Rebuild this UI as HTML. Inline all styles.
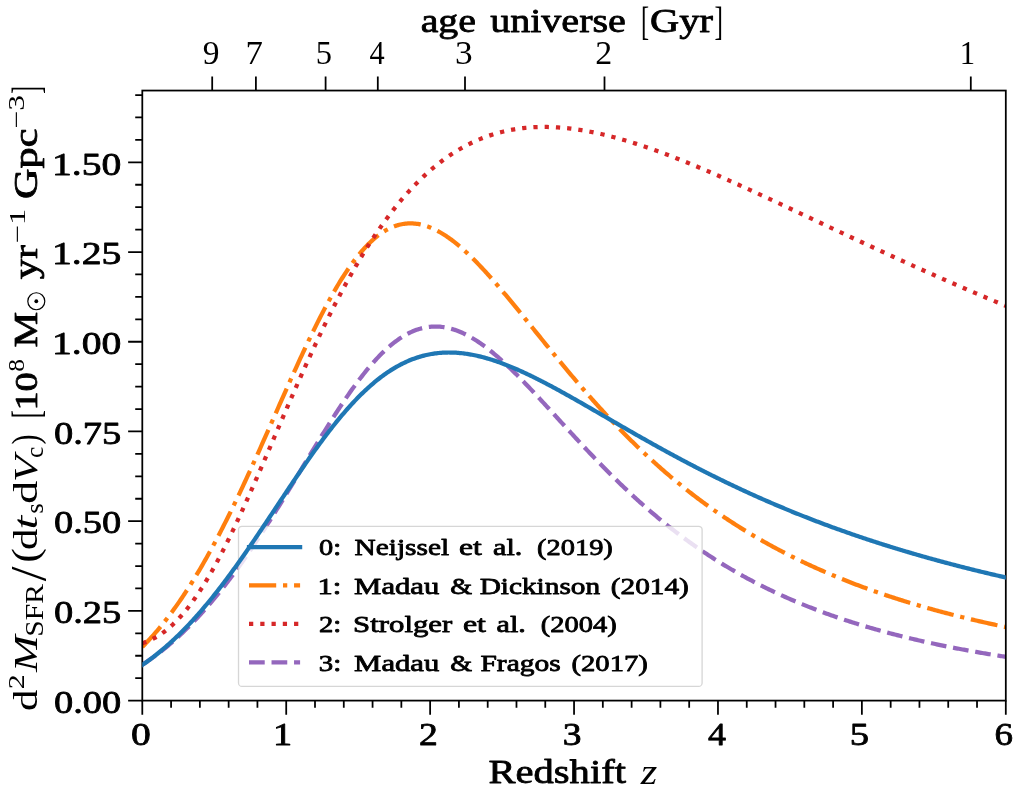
<!DOCTYPE html>
<html><head><meta charset="utf-8"><title>Star formation rate density vs redshift</title>
<style>html,body{margin:0;padding:0;background:#fff;} body{width:1020px;height:792px;overflow:hidden;} svg{display:block;will-change:transform;} text{font-family:"Liberation Serif",serif;}</style>
</head><body>
<svg width="1020" height="792" viewBox="0 0 1020 792">
<rect width="1020" height="792" fill="#fff"/>
<defs><clipPath id="ax"><rect x="142.3" y="90.55" width="863.50" height="610.05"/></clipPath></defs>
<g clip-path="url(#ax)" fill="none" stroke-linejoin="round">
<path d="M142.30,646.91 L143.54,645.66 L144.77,644.40 L146.01,643.12 L147.24,641.82 L148.48,640.50 L149.71,639.16 L150.95,637.81 L152.18,636.44 L153.42,635.05 L154.65,633.64 L155.89,632.22 L157.12,630.77 L158.36,629.31 L159.59,627.83 L160.83,626.33 L162.07,624.81 L163.30,623.27 L164.54,621.72 L165.77,620.14 L167.01,618.55 L168.24,616.94 L169.48,615.31 L170.71,613.66 L171.95,611.99 L173.18,610.31 L174.42,608.60 L175.65,606.88 L176.89,605.13 L178.12,603.37 L179.36,601.59 L180.60,599.79 L181.83,597.97 L183.07,596.14 L184.30,594.28 L185.54,592.41 L186.77,590.51 L188.01,588.60 L189.24,586.67 L190.48,584.72 L191.71,582.75 L192.95,580.77 L194.18,578.76 L195.42,576.74 L196.65,574.70 L197.89,572.64 L199.13,570.56 L200.36,568.46 L201.60,566.35 L202.83,564.21 L204.07,562.06 L205.30,559.89 L206.54,557.71 L207.77,555.50 L209.01,553.28 L210.24,551.04 L211.48,548.79 L212.71,546.52 L213.95,544.23 L215.18,541.92 L216.42,539.59 L217.66,537.25 L218.89,534.90 L220.13,532.53 L221.36,530.14 L222.60,527.73 L223.83,525.31 L225.07,522.88 L226.30,520.43 L227.54,517.96 L228.77,515.48 L230.01,512.99 L231.24,510.48 L232.48,507.96 L233.71,505.42 L234.95,502.87 L236.19,500.31 L237.42,497.73 L238.66,495.14 L239.89,492.54 L241.13,489.93 L242.36,487.30 L243.60,484.66 L244.83,482.02 L246.07,479.36 L247.30,476.69 L248.54,474.01 L249.77,471.32 L251.01,468.62 L252.24,465.92 L253.48,463.20 L254.72,460.48 L255.95,457.75 L257.19,455.01 L258.42,452.26 L259.66,449.51 L260.89,446.75 L262.13,443.99 L263.36,441.22 L264.60,438.44 L265.83,435.66 L267.07,432.88 L268.30,430.10 L269.54,427.31 L270.77,424.52 L272.01,421.72 L273.25,418.93 L274.48,416.14 L275.72,413.34 L276.95,410.55 L278.19,407.75 L279.42,404.96 L280.66,402.17 L281.89,399.38 L283.13,396.59 L284.36,393.81 L285.60,391.03 L286.83,388.26 L288.07,385.49 L289.31,382.73 L290.54,379.97 L291.78,377.22 L293.01,374.48 L294.25,371.74 L295.48,369.02 L296.72,366.30 L297.95,363.59 L299.19,360.90 L300.42,358.21 L301.66,355.54 L302.89,352.88 L304.13,350.23 L305.36,347.60 L306.60,344.98 L307.84,342.37 L309.07,339.78 L310.31,337.21 L311.54,334.65 L312.78,332.11 L314.01,329.59 L315.25,327.08 L316.48,324.60 L317.72,322.13 L318.95,319.68 L320.19,317.26 L321.42,314.85 L322.66,312.47 L323.89,310.11 L325.13,307.77 L326.37,305.46 L327.60,303.17 L328.84,300.90 L330.07,298.66 L331.31,296.45 L332.54,294.26 L333.78,292.10 L335.01,289.96 L336.25,287.86 L337.48,285.78 L338.72,283.73 L339.95,281.71 L341.19,279.71 L342.42,277.75 L343.66,275.82 L344.90,273.92 L346.13,272.05 L347.37,270.21 L348.60,268.41 L349.84,266.63 L351.07,264.89 L352.31,263.18 L353.54,261.51 L354.78,259.87 L356.01,258.26 L357.25,256.69 L358.48,255.15 L359.72,253.65 L360.95,252.18 L362.19,250.74 L363.43,249.35 L364.66,247.98 L365.90,246.66 L367.13,245.37 L368.37,244.12 L369.60,242.90 L370.84,241.72 L372.07,240.58 L373.31,239.47 L374.54,238.40 L375.78,237.37 L377.01,236.37 L378.25,235.41 L379.48,234.49 L380.72,233.61 L381.96,232.76 L383.19,231.95 L384.43,231.18 L385.66,230.44 L386.90,229.74 L388.13,229.08 L389.37,228.46 L390.60,227.87 L391.84,227.32 L393.07,226.81 L394.31,226.33 L395.54,225.89 L396.78,225.48 L398.01,225.11 L399.25,224.78 L400.49,224.48 L401.72,224.22 L402.96,224.00 L404.19,223.81 L405.43,223.65 L406.66,223.53 L407.90,223.44 L409.13,223.39 L410.37,223.37 L411.60,223.38 L412.84,223.43 L414.07,223.51 L415.31,223.63 L416.54,223.77 L417.78,223.95 L419.02,224.16 L420.25,224.40 L421.49,224.67 L422.72,224.98 L423.96,225.31 L425.19,225.67 L426.43,226.07 L427.66,226.49 L428.90,226.94 L430.13,227.42 L431.37,227.93 L432.60,228.46 L433.84,229.03 L435.07,229.62 L436.31,230.23 L437.55,230.88 L438.78,231.55 L440.02,232.24 L441.25,232.96 L442.49,233.70 L443.72,234.47 L444.96,235.26 L446.19,236.08 L447.43,236.92 L448.66,237.78 L449.90,238.66 L451.13,239.56 L452.37,240.49 L453.60,241.44 L454.84,242.40 L456.08,243.39 L457.31,244.40 L458.55,245.42 L459.78,246.47 L461.02,247.53 L462.25,248.61 L463.49,249.71 L464.72,250.82 L465.96,251.95 L467.19,253.10 L468.43,254.27 L469.66,255.45 L470.90,256.64 L472.13,257.85 L473.37,259.07 L474.61,260.31 L475.84,261.56 L477.08,262.83 L478.31,264.11 L479.55,265.40 L480.78,266.70 L482.02,268.01 L483.25,269.34 L484.49,270.67 L485.72,272.02 L486.96,273.38 L488.19,274.74 L489.43,276.12 L490.66,277.50 L491.90,278.90 L493.14,280.30 L494.37,281.71 L495.61,283.13 L496.84,284.56 L498.08,286.00 L499.31,287.44 L500.55,288.89 L501.78,290.34 L503.02,291.80 L504.25,293.27 L505.49,294.74 L506.72,296.22 L507.96,297.70 L509.19,299.19 L510.43,300.68 L511.67,302.17 L512.90,303.67 L514.14,305.18 L515.37,306.68 L516.61,308.19 L517.84,309.71 L519.08,311.22 L520.31,312.74 L521.55,314.26 L522.78,315.78 L524.02,317.31 L525.25,318.83 L526.49,320.36 L527.72,321.89 L528.96,323.42 L530.20,324.95 L531.43,326.48 L532.67,328.01 L533.90,329.54 L535.14,331.07 L536.37,332.60 L537.61,334.13 L538.84,335.66 L540.08,337.19 L541.31,338.72 L542.55,340.25 L543.78,341.77 L545.02,343.30 L546.25,344.82 L547.49,346.34 L548.73,347.86 L549.96,349.38 L551.20,350.90 L552.43,352.41 L553.67,353.92 L554.90,355.43 L556.14,356.94 L557.37,358.44 L558.61,359.94 L559.84,361.44 L561.08,362.94 L562.31,364.43 L563.55,365.92 L564.78,367.41 L566.02,368.89 L567.26,370.37 L568.49,371.84 L569.73,373.31 L570.96,374.78 L572.20,376.25 L573.43,377.71 L574.67,379.16 L575.90,380.61 L577.14,382.06 L578.37,383.51 L579.61,384.95 L580.84,386.38 L582.08,387.81 L583.32,389.24 L584.55,390.66 L585.79,392.08 L587.02,393.49 L588.26,394.89 L589.49,396.30 L590.73,397.70 L591.96,399.09 L593.20,400.48 L594.43,401.86 L595.67,403.24 L596.90,404.61 L598.14,405.98 L599.37,407.34 L600.61,408.70 L601.85,410.05 L603.08,411.40 L604.32,412.74 L605.55,414.08 L606.79,415.41 L608.02,416.74 L609.26,418.06 L610.49,419.37 L611.73,420.68 L612.96,421.99 L614.20,423.29 L615.43,424.58 L616.67,425.87 L617.90,427.15 L619.14,428.43 L620.38,429.70 L621.61,430.97 L622.85,432.23 L624.08,433.48 L625.32,434.73 L626.55,435.97 L627.79,437.21 L629.02,438.45 L630.26,439.67 L631.49,440.89 L632.73,442.11 L633.96,443.32 L635.20,444.53 L636.43,445.72 L637.67,446.92 L638.91,448.11 L640.14,449.29 L641.38,450.47 L642.61,451.64 L643.85,452.80 L645.08,453.96 L646.32,455.12 L647.55,456.27 L648.79,457.41 L650.02,458.55 L651.26,459.68 L652.49,460.80 L653.73,461.93 L654.96,463.04 L656.20,464.15 L657.44,465.26 L658.67,466.35 L659.91,467.45 L661.14,468.54 L662.38,469.62 L663.61,470.70 L664.85,471.77 L666.08,472.83 L667.32,473.90 L668.55,474.95 L669.79,476.00 L671.02,477.05 L672.26,478.09 L673.49,479.12 L674.73,480.15 L675.97,481.17 L677.20,482.19 L678.44,483.20 L679.67,484.21 L680.91,485.21 L682.14,486.21 L683.38,487.20 L684.61,488.19 L685.85,489.17 L687.08,490.15 L688.32,491.12 L689.55,492.09 L690.79,493.05 L692.02,494.00 L693.26,494.95 L694.50,495.90 L695.73,496.84 L696.97,497.78 L698.20,498.71 L699.44,499.64 L700.67,500.56 L701.91,501.47 L703.14,502.39 L704.38,503.29 L705.61,504.20 L706.85,505.09 L708.08,505.98 L709.32,506.87 L710.55,507.76 L711.79,508.63 L713.03,509.51 L714.26,510.38 L715.50,511.24 L716.73,512.10 L717.97,512.95 L719.20,513.81 L720.44,514.65 L721.67,515.49 L722.91,516.33 L724.14,517.16 L725.38,517.99 L726.61,518.81 L727.85,519.63 L729.08,520.45 L730.32,521.26 L731.56,522.06 L732.79,522.86 L734.03,523.66 L735.26,524.45 L736.50,525.24 L737.73,526.03 L738.97,526.81 L740.20,527.58 L741.44,528.35 L742.67,529.12 L743.91,529.88 L745.14,530.64 L746.38,531.40 L747.61,532.15 L748.85,532.89 L750.09,533.64 L751.32,534.38 L752.56,535.11 L753.79,535.84 L755.03,536.57 L756.26,537.29 L757.50,538.01 L758.73,538.73 L759.97,539.44 L761.20,540.14 L762.44,540.85 L763.67,541.55 L764.91,542.24 L766.14,542.94 L767.38,543.62 L768.62,544.31 L769.85,544.99 L771.09,545.67 L772.32,546.34 L773.56,547.01 L774.79,547.68 L776.03,548.34 L777.26,549.00 L778.50,549.66 L779.73,550.31 L780.97,550.96 L782.20,551.60 L783.44,552.24 L784.67,552.88 L785.91,553.52 L787.15,554.15 L788.38,554.78 L789.62,555.40 L790.85,556.02 L792.09,556.64 L793.32,557.26 L794.56,557.87 L795.79,558.48 L797.03,559.08 L798.26,559.68 L799.50,560.28 L800.73,560.88 L801.97,561.47 L803.20,562.06 L804.44,562.64 L805.68,563.23 L806.91,563.81 L808.15,564.38 L809.38,564.95 L810.62,565.53 L811.85,566.09 L813.09,566.66 L814.32,567.22 L815.56,567.78 L816.79,568.33 L818.03,568.88 L819.26,569.43 L820.50,569.98 L821.73,570.52 L822.97,571.06 L824.21,571.60 L825.44,572.14 L826.68,572.67 L827.91,573.20 L829.15,573.73 L830.38,574.25 L831.62,574.77 L832.85,575.29 L834.09,575.80 L835.32,576.32 L836.56,576.83 L837.79,577.33 L839.03,577.84 L840.26,578.34 L841.50,578.84 L842.74,579.34 L843.97,579.83 L845.21,580.32 L846.44,580.81 L847.68,581.30 L848.91,581.78 L850.15,582.27 L851.38,582.75 L852.62,583.22 L853.85,583.70 L855.09,584.17 L856.32,584.64 L857.56,585.10 L858.79,585.57 L860.03,586.03 L861.27,586.49 L862.50,586.95 L863.74,587.40 L864.97,587.85 L866.21,588.30 L867.44,588.75 L868.68,589.20 L869.91,589.64 L871.15,590.08 L872.38,590.52 L873.62,590.96 L874.85,591.39 L876.09,591.82 L877.33,592.25 L878.56,592.68 L879.80,593.11 L881.03,593.53 L882.27,593.95 L883.50,594.37 L884.74,594.79 L885.97,595.20 L887.21,595.61 L888.44,596.02 L889.68,596.43 L890.91,596.84 L892.15,597.24 L893.38,597.64 L894.62,598.04 L895.86,598.44 L897.09,598.84 L898.33,599.23 L899.56,599.62 L900.80,600.01 L902.03,600.40 L903.27,600.79 L904.50,601.17 L905.74,601.56 L906.97,601.94 L908.21,602.31 L909.44,602.69 L910.68,603.07 L911.91,603.44 L913.15,603.81 L914.39,604.18 L915.62,604.55 L916.86,604.91 L918.09,605.28 L919.33,605.64 L920.56,606.00 L921.80,606.36 L923.03,606.71 L924.27,607.07 L925.50,607.42 L926.74,607.77 L927.97,608.12 L929.21,608.47 L930.44,608.82 L931.68,609.16 L932.92,609.50 L934.15,609.84 L935.39,610.18 L936.62,610.52 L937.86,610.86 L939.09,611.19 L940.33,611.52 L941.56,611.86 L942.80,612.19 L944.03,612.51 L945.27,612.84 L946.50,613.16 L947.74,613.49 L948.97,613.81 L950.21,614.13 L951.45,614.45 L952.68,614.76 L953.92,615.08 L955.15,615.39 L956.39,615.71 L957.62,616.02 L958.86,616.33 L960.09,616.63 L961.33,616.94 L962.56,617.25 L963.80,617.55 L965.03,617.85 L966.27,618.15 L967.50,618.45 L968.74,618.75 L969.98,619.05 L971.21,619.34 L972.45,619.63 L973.68,619.93 L974.92,620.22 L976.15,620.51 L977.39,620.79 L978.62,621.08 L979.86,621.37 L981.09,621.65 L982.33,621.93 L983.56,622.21 L984.80,622.49 L986.03,622.77 L987.27,623.05 L988.51,623.33 L989.74,623.60 L990.98,623.87 L992.21,624.15 L993.45,624.42 L994.68,624.69 L995.92,624.96 L997.15,625.22 L998.39,625.49 L999.62,625.75 L1000.86,626.02 L1002.09,626.28 L1003.33,626.54 L1004.56,626.80 L1005.80,627.06" stroke="#ff7f0e" stroke-width="4.25" stroke-dasharray="27.200 6.800 4.250 6.800"/>
<path d="M142.30,643.17 L144.46,642.46 L146.63,641.66 L148.79,640.78 L150.96,639.80 L153.12,638.74 L155.28,637.57 L157.45,636.32 L159.61,634.96 L161.78,633.51 L163.94,631.95 L166.11,630.30 L168.27,628.54 L170.43,626.67 L172.60,624.71 L174.76,622.63 L176.93,620.46 L179.09,618.17 L181.25,615.79 L183.42,613.29 L185.58,610.70 L187.75,607.99 L189.91,605.19 L192.08,602.28 L194.24,599.27 L196.40,596.16 L198.57,592.95 L200.73,589.64 L202.90,586.24 L205.06,582.74 L207.22,579.15 L209.39,575.47 L211.55,571.71 L213.72,567.86 L215.88,563.93 L218.05,559.91 L220.21,555.82 L222.37,551.66 L224.54,547.42 L226.70,543.12 L228.87,538.75 L231.03,534.31 L233.19,529.82 L235.36,525.27 L237.52,520.66 L239.69,516.01 L241.85,511.31 L244.02,506.56 L246.18,501.78 L248.34,496.95 L250.51,492.09 L252.67,487.20 L254.84,482.29 L257.00,477.34 L259.16,472.38 L261.33,467.39 L263.49,462.39 L265.66,457.38 L267.82,452.35 L269.99,447.32 L272.15,442.28 L274.31,437.24 L276.48,432.21 L278.64,427.17 L280.81,422.14 L282.97,417.12 L285.13,412.12 L287.30,407.12 L289.46,402.14 L291.63,397.18 L293.79,392.24 L295.96,387.31 L298.12,382.42 L300.28,377.55 L302.45,372.71 L304.61,367.89 L306.78,363.11 L308.94,358.36 L311.10,353.65 L313.27,348.97 L315.43,344.33 L317.60,339.73 L319.76,335.17 L321.93,330.65 L324.09,326.18 L326.25,321.75 L328.42,317.36 L330.58,313.02 L332.75,308.73 L334.91,304.48 L337.07,300.28 L339.24,296.14 L341.40,292.04 L343.57,287.99 L345.73,284.00 L347.90,280.06 L350.06,276.17 L352.22,272.33 L354.39,268.55 L356.55,264.82 L358.72,261.14 L360.88,257.52 L363.04,253.96 L365.21,250.45 L367.37,246.99 L369.54,243.59 L371.70,240.24 L373.87,236.96 L376.03,233.72 L378.19,230.54 L380.36,227.42 L382.52,224.35 L384.69,221.34 L386.85,218.38 L389.01,215.48 L391.18,212.64 L393.34,209.85 L395.51,207.11 L397.67,204.43 L399.84,201.80 L402.00,199.22 L404.16,196.70 L406.33,194.23 L408.49,191.82 L410.66,189.46 L412.82,187.15 L414.98,184.89 L417.15,182.68 L419.31,180.53 L421.48,178.42 L423.64,176.37 L425.81,174.36 L427.97,172.41 L430.13,170.50 L432.30,168.65 L434.46,166.84 L436.63,165.08 L438.79,163.36 L440.95,161.70 L443.12,160.07 L445.28,158.50 L447.45,156.97 L449.61,155.49 L451.77,154.04 L453.94,152.65 L456.10,151.29 L458.27,149.98 L460.43,148.72 L462.60,147.49 L464.76,146.30 L466.92,145.16 L469.09,144.06 L471.25,142.99 L473.42,141.97 L475.58,140.98 L477.74,140.03 L479.91,139.12 L482.07,138.25 L484.24,137.41 L486.40,136.61 L488.57,135.85 L490.73,135.12 L492.89,134.43 L495.06,133.77 L497.22,133.14 L499.39,132.55 L501.55,131.99 L503.71,131.46 L505.88,130.96 L508.04,130.50 L510.21,130.07 L512.37,129.66 L514.54,129.29 L516.70,128.94 L518.86,128.63 L521.03,128.34 L523.19,128.08 L525.36,127.85 L527.52,127.65 L529.68,127.47 L531.85,127.32 L534.01,127.20 L536.18,127.10 L538.34,127.03 L540.51,126.98 L542.67,126.95 L544.83,126.95 L547.00,126.97 L549.16,127.02 L551.33,127.08 L553.49,127.17 L555.65,127.29 L557.82,127.42 L559.98,127.57 L562.15,127.75 L564.31,127.94 L566.48,128.16 L568.64,128.39 L570.80,128.65 L572.97,128.92 L575.13,129.21 L577.30,129.52 L579.46,129.85 L581.62,130.20 L583.79,130.56 L585.95,130.94 L588.12,131.33 L590.28,131.75 L592.45,132.17 L594.61,132.62 L596.77,133.08 L598.94,133.55 L601.10,134.04 L603.27,134.54 L605.43,135.06 L607.59,135.59 L609.76,136.14 L611.92,136.69 L614.09,137.27 L616.25,137.85 L618.42,138.45 L620.58,139.06 L622.74,139.68 L624.91,140.31 L627.07,140.95 L629.24,141.61 L631.40,142.27 L633.56,142.95 L635.73,143.64 L637.89,144.34 L640.06,145.04 L642.22,145.76 L644.39,146.49 L646.55,147.22 L648.71,147.97 L650.88,148.73 L653.04,149.49 L655.21,150.26 L657.37,151.04 L659.53,151.83 L661.70,152.63 L663.86,153.43 L666.03,154.24 L668.19,155.06 L670.36,155.89 L672.52,156.72 L674.68,157.56 L676.85,158.41 L679.01,159.27 L681.18,160.13 L683.34,160.99 L685.50,161.86 L687.67,162.74 L689.83,163.63 L692.00,164.52 L694.16,165.41 L696.33,166.31 L698.49,167.22 L700.65,168.13 L702.82,169.04 L704.98,169.96 L707.15,170.89 L709.31,171.82 L711.47,172.75 L713.64,173.69 L715.80,174.63 L717.97,175.57 L720.13,176.52 L722.29,177.47 L724.46,178.43 L726.62,179.39 L728.79,180.35 L730.95,181.32 L733.12,182.29 L735.28,183.26 L737.44,184.23 L739.61,185.21 L741.77,186.19 L743.94,187.17 L746.10,188.16 L748.26,189.15 L750.43,190.14 L752.59,191.13 L754.76,192.12 L756.92,193.12 L759.09,194.12 L761.25,195.12 L763.41,196.12 L765.58,197.12 L767.74,198.12 L769.91,199.13 L772.07,200.14 L774.23,201.14 L776.40,202.15 L778.56,203.16 L780.73,204.18 L782.89,205.19 L785.06,206.20 L787.22,207.22 L789.38,208.23 L791.55,209.25 L793.71,210.26 L795.88,211.28 L798.04,212.30 L800.20,213.32 L802.37,214.33 L804.53,215.35 L806.70,216.37 L808.86,217.39 L811.03,218.41 L813.19,219.43 L815.35,220.45 L817.52,221.47 L819.68,222.49 L821.85,223.50 L824.01,224.52 L826.17,225.54 L828.34,226.56 L830.50,227.58 L832.67,228.59 L834.83,229.61 L837.00,230.63 L839.16,231.64 L841.32,232.66 L843.49,233.67 L845.65,234.69 L847.82,235.70 L849.98,236.71 L852.14,237.72 L854.31,238.74 L856.47,239.75 L858.64,240.75 L860.80,241.76 L862.97,242.77 L865.13,243.78 L867.29,244.78 L869.46,245.78 L871.62,246.79 L873.79,247.79 L875.95,248.79 L878.11,249.79 L880.28,250.79 L882.44,251.78 L884.61,252.78 L886.77,253.77 L888.94,254.77 L891.10,255.76 L893.26,256.75 L895.43,257.74 L897.59,258.73 L899.76,259.71 L901.92,260.70 L904.08,261.68 L906.25,262.66 L908.41,263.64 L910.58,264.62 L912.74,265.59 L914.91,266.57 L917.07,267.54 L919.23,268.51 L921.40,269.48 L923.56,270.45 L925.73,271.42 L927.89,272.38 L930.05,273.35 L932.22,274.31 L934.38,275.27 L936.55,276.22 L938.71,277.18 L940.88,278.13 L943.04,279.09 L945.20,280.04 L947.37,280.98 L949.53,281.93 L951.70,282.88 L953.86,283.82 L956.02,284.76 L958.19,285.70 L960.35,286.63 L962.52,287.57 L964.68,288.50 L966.85,289.43 L969.01,290.36 L971.17,291.29 L973.34,292.21 L975.50,293.13 L977.67,294.06 L979.83,294.97 L981.99,295.89 L984.16,296.81 L986.32,297.72 L988.49,298.63 L990.65,299.54 L992.82,300.44 L994.98,301.35 L997.14,302.25 L999.31,303.15 L1001.47,304.05 L1003.64,304.94 L1005.80,305.83" stroke="#d62728" stroke-width="4.25" stroke-dasharray="4.250 7.012"/>
<path d="M142.30,664.74 L143.54,663.94 L144.77,663.12 L146.01,662.30 L147.24,661.46 L148.48,660.61 L149.71,659.75 L150.95,658.88 L152.18,658.00 L153.42,657.11 L154.65,656.20 L155.89,655.29 L157.12,654.36 L158.36,653.42 L159.59,652.47 L160.83,651.51 L162.07,650.54 L163.30,649.55 L164.54,648.56 L165.77,647.55 L167.01,646.53 L168.24,645.50 L169.48,644.46 L170.71,643.40 L171.95,642.34 L173.18,641.26 L174.42,640.17 L175.65,639.07 L176.89,637.95 L178.12,636.83 L179.36,635.69 L180.60,634.54 L181.83,633.38 L183.07,632.20 L184.30,631.02 L185.54,629.82 L186.77,628.61 L188.01,627.39 L189.24,626.15 L190.48,624.91 L191.71,623.65 L192.95,622.38 L194.18,621.10 L195.42,619.80 L196.65,618.49 L197.89,617.18 L199.13,615.84 L200.36,614.50 L201.60,613.14 L202.83,611.78 L204.07,610.40 L205.30,609.00 L206.54,607.60 L207.77,606.18 L209.01,604.76 L210.24,603.32 L211.48,601.86 L212.71,600.40 L213.95,598.92 L215.18,597.43 L216.42,595.93 L217.66,594.42 L218.89,592.90 L220.13,591.36 L221.36,589.81 L222.60,588.25 L223.83,586.68 L225.07,585.10 L226.30,583.50 L227.54,581.90 L228.77,580.28 L230.01,578.65 L231.24,577.01 L232.48,575.36 L233.71,573.69 L234.95,572.02 L236.19,570.33 L237.42,568.64 L238.66,566.93 L239.89,565.21 L241.13,563.48 L242.36,561.74 L243.60,559.99 L244.83,558.23 L246.07,556.46 L247.30,554.68 L248.54,552.89 L249.77,551.09 L251.01,549.28 L252.24,547.46 L253.48,545.63 L254.72,543.79 L255.95,541.94 L257.19,540.08 L258.42,538.21 L259.66,536.34 L260.89,534.45 L262.13,532.56 L263.36,530.66 L264.60,528.75 L265.83,526.83 L267.07,524.91 L268.30,522.98 L269.54,521.04 L270.77,519.09 L272.01,517.13 L273.25,515.17 L274.48,513.20 L275.72,511.23 L276.95,509.25 L278.19,507.26 L279.42,505.27 L280.66,503.28 L281.89,501.27 L283.13,499.27 L284.36,497.26 L285.60,495.24 L286.83,493.22 L288.07,491.19 L289.31,489.17 L290.54,487.14 L291.78,485.10 L293.01,483.07 L294.25,481.03 L295.48,478.99 L296.72,476.94 L297.95,474.90 L299.19,472.85 L300.42,470.81 L301.66,468.76 L302.89,466.71 L304.13,464.67 L305.36,462.62 L306.60,460.58 L307.84,458.53 L309.07,456.49 L310.31,454.45 L311.54,452.41 L312.78,450.38 L314.01,448.35 L315.25,446.32 L316.48,444.29 L317.72,442.27 L318.95,440.26 L320.19,438.24 L321.42,436.24 L322.66,434.24 L323.89,432.25 L325.13,430.26 L326.37,428.28 L327.60,426.31 L328.84,424.35 L330.07,422.39 L331.31,420.44 L332.54,418.50 L333.78,416.58 L335.01,414.66 L336.25,412.75 L337.48,410.85 L338.72,408.97 L339.95,407.09 L341.19,405.23 L342.42,403.38 L343.66,401.55 L344.90,399.73 L346.13,397.92 L347.37,396.12 L348.60,394.34 L349.84,392.58 L351.07,390.83 L352.31,389.10 L353.54,387.38 L354.78,385.68 L356.01,384.00 L357.25,382.33 L358.48,380.69 L359.72,379.06 L360.95,377.45 L362.19,375.86 L363.43,374.29 L364.66,372.74 L365.90,371.21 L367.13,369.70 L368.37,368.21 L369.60,366.74 L370.84,365.30 L372.07,363.88 L373.31,362.48 L374.54,361.10 L375.78,359.75 L377.01,358.42 L378.25,357.11 L379.48,355.83 L380.72,354.57 L381.96,353.34 L383.19,352.13 L384.43,350.95 L385.66,349.80 L386.90,348.67 L388.13,347.56 L389.37,346.49 L390.60,345.44 L391.84,344.41 L393.07,343.42 L394.31,342.45 L395.54,341.51 L396.78,340.59 L398.01,339.71 L399.25,338.85 L400.49,338.02 L401.72,337.22 L402.96,336.44 L404.19,335.70 L405.43,334.99 L406.66,334.30 L407.90,333.64 L409.13,333.01 L410.37,332.41 L411.60,331.84 L412.84,331.30 L414.07,330.79 L415.31,330.31 L416.54,329.85 L417.78,329.43 L419.02,329.03 L420.25,328.67 L421.49,328.33 L422.72,328.02 L423.96,327.74 L425.19,327.49 L426.43,327.27 L427.66,327.08 L428.90,326.92 L430.13,326.79 L431.37,326.68 L432.60,326.60 L433.84,326.55 L435.07,326.53 L436.31,326.54 L437.55,326.58 L438.78,326.64 L440.02,326.73 L441.25,326.85 L442.49,326.99 L443.72,327.16 L444.96,327.36 L446.19,327.59 L447.43,327.84 L448.66,328.12 L449.90,328.42 L451.13,328.75 L452.37,329.10 L453.60,329.48 L454.84,329.88 L456.08,330.31 L457.31,330.76 L458.55,331.24 L459.78,331.74 L461.02,332.26 L462.25,332.81 L463.49,333.38 L464.72,333.97 L465.96,334.58 L467.19,335.22 L468.43,335.88 L469.66,336.55 L470.90,337.25 L472.13,337.97 L473.37,338.71 L474.61,339.47 L475.84,340.25 L477.08,341.05 L478.31,341.86 L479.55,342.70 L480.78,343.55 L482.02,344.42 L483.25,345.31 L484.49,346.21 L485.72,347.14 L486.96,348.07 L488.19,349.03 L489.43,350.00 L490.66,350.98 L491.90,351.98 L493.14,353.00 L494.37,354.03 L495.61,355.07 L496.84,356.13 L498.08,357.20 L499.31,358.28 L500.55,359.38 L501.78,360.48 L503.02,361.60 L504.25,362.73 L505.49,363.88 L506.72,365.03 L507.96,366.19 L509.19,367.37 L510.43,368.55 L511.67,369.74 L512.90,370.95 L514.14,372.16 L515.37,373.38 L516.61,374.61 L517.84,375.84 L519.08,377.09 L520.31,378.34 L521.55,379.60 L522.78,380.86 L524.02,382.14 L525.25,383.41 L526.49,384.70 L527.72,385.99 L528.96,387.28 L530.20,388.59 L531.43,389.89 L532.67,391.20 L533.90,392.52 L535.14,393.83 L536.37,395.16 L537.61,396.48 L538.84,397.81 L540.08,399.14 L541.31,400.48 L542.55,401.82 L543.78,403.16 L545.02,404.50 L546.25,405.84 L547.49,407.19 L548.73,408.54 L549.96,409.89 L551.20,411.24 L552.43,412.59 L553.67,413.94 L554.90,415.29 L556.14,416.65 L557.37,418.00 L558.61,419.35 L559.84,420.70 L561.08,422.06 L562.31,423.41 L563.55,424.76 L564.78,426.11 L566.02,427.46 L567.26,428.81 L568.49,430.15 L569.73,431.50 L570.96,432.84 L572.20,434.18 L573.43,435.52 L574.67,436.86 L575.90,438.19 L577.14,439.53 L578.37,440.86 L579.61,442.19 L580.84,443.51 L582.08,444.83 L583.32,446.15 L584.55,447.47 L585.79,448.78 L587.02,450.09 L588.26,451.40 L589.49,452.70 L590.73,454.00 L591.96,455.30 L593.20,456.59 L594.43,457.88 L595.67,459.16 L596.90,460.45 L598.14,461.72 L599.37,463.00 L600.61,464.26 L601.85,465.53 L603.08,466.79 L604.32,468.04 L605.55,469.29 L606.79,470.54 L608.02,471.78 L609.26,473.02 L610.49,474.25 L611.73,475.48 L612.96,476.70 L614.20,477.92 L615.43,479.13 L616.67,480.34 L617.90,481.55 L619.14,482.74 L620.38,483.94 L621.61,485.13 L622.85,486.31 L624.08,487.49 L625.32,488.66 L626.55,489.83 L627.79,490.99 L629.02,492.15 L630.26,493.30 L631.49,494.44 L632.73,495.59 L633.96,496.72 L635.20,497.85 L636.43,498.98 L637.67,500.10 L638.91,501.21 L640.14,502.32 L641.38,503.42 L642.61,504.52 L643.85,505.61 L645.08,506.70 L646.32,507.78 L647.55,508.86 L648.79,509.93 L650.02,510.99 L651.26,512.05 L652.49,513.10 L653.73,514.15 L654.96,515.19 L656.20,516.23 L657.44,517.26 L658.67,518.29 L659.91,519.31 L661.14,520.32 L662.38,521.33 L663.61,522.34 L664.85,523.34 L666.08,524.33 L667.32,525.32 L668.55,526.30 L669.79,527.28 L671.02,528.25 L672.26,529.21 L673.49,530.17 L674.73,531.13 L675.97,532.08 L677.20,533.02 L678.44,533.96 L679.67,534.89 L680.91,535.82 L682.14,536.74 L683.38,537.66 L684.61,538.57 L685.85,539.48 L687.08,540.38 L688.32,541.28 L689.55,542.17 L690.79,543.05 L692.02,543.94 L693.26,544.81 L694.50,545.68 L695.73,546.55 L696.97,547.41 L698.20,548.26 L699.44,549.11 L700.67,549.95 L701.91,550.79 L703.14,551.63 L704.38,552.46 L705.61,553.28 L706.85,554.10 L708.08,554.92 L709.32,555.73 L710.55,556.53 L711.79,557.33 L713.03,558.13 L714.26,558.92 L715.50,559.70 L716.73,560.48 L717.97,561.26 L719.20,562.03 L720.44,562.80 L721.67,563.56 L722.91,564.31 L724.14,565.07 L725.38,565.81 L726.61,566.56 L727.85,567.30 L729.08,568.03 L730.32,568.76 L731.56,569.48 L732.79,570.20 L734.03,570.92 L735.26,571.63 L736.50,572.34 L737.73,573.04 L738.97,573.74 L740.20,574.43 L741.44,575.12 L742.67,575.81 L743.91,576.49 L745.14,577.17 L746.38,577.84 L747.61,578.51 L748.85,579.17 L750.09,579.83 L751.32,580.49 L752.56,581.14 L753.79,581.79 L755.03,582.43 L756.26,583.07 L757.50,583.71 L758.73,584.34 L759.97,584.97 L761.20,585.59 L762.44,586.21 L763.67,586.83 L764.91,587.44 L766.14,588.05 L767.38,588.66 L768.62,589.26 L769.85,589.85 L771.09,590.45 L772.32,591.04 L773.56,591.62 L774.79,592.21 L776.03,592.78 L777.26,593.36 L778.50,593.93 L779.73,594.50 L780.97,595.06 L782.20,595.62 L783.44,596.18 L784.67,596.73 L785.91,597.28 L787.15,597.83 L788.38,598.38 L789.62,598.92 L790.85,599.45 L792.09,599.99 L793.32,600.52 L794.56,601.04 L795.79,601.57 L797.03,602.09 L798.26,602.60 L799.50,603.12 L800.73,603.63 L801.97,604.13 L803.20,604.64 L804.44,605.14 L805.68,605.64 L806.91,606.13 L808.15,606.62 L809.38,607.11 L810.62,607.60 L811.85,608.08 L813.09,608.56 L814.32,609.03 L815.56,609.51 L816.79,609.98 L818.03,610.45 L819.26,610.91 L820.50,611.37 L821.73,611.83 L822.97,612.29 L824.21,612.74 L825.44,613.19 L826.68,613.64 L827.91,614.08 L829.15,614.53 L830.38,614.97 L831.62,615.40 L832.85,615.84 L834.09,616.27 L835.32,616.70 L836.56,617.12 L837.79,617.55 L839.03,617.97 L840.26,618.39 L841.50,618.80 L842.74,619.21 L843.97,619.62 L845.21,620.03 L846.44,620.44 L847.68,620.84 L848.91,621.24 L850.15,621.64 L851.38,622.04 L852.62,622.43 L853.85,622.82 L855.09,623.21 L856.32,623.59 L857.56,623.98 L858.79,624.36 L860.03,624.74 L861.27,625.12 L862.50,625.49 L863.74,625.86 L864.97,626.23 L866.21,626.60 L867.44,626.97 L868.68,627.33 L869.91,627.69 L871.15,628.05 L872.38,628.41 L873.62,628.76 L874.85,629.11 L876.09,629.46 L877.33,629.81 L878.56,630.16 L879.80,630.50 L881.03,630.84 L882.27,631.18 L883.50,631.52 L884.74,631.86 L885.97,632.19 L887.21,632.52 L888.44,632.85 L889.68,633.18 L890.91,633.51 L892.15,633.83 L893.38,634.15 L894.62,634.47 L895.86,634.79 L897.09,635.11 L898.33,635.42 L899.56,635.73 L900.80,636.04 L902.03,636.35 L903.27,636.66 L904.50,636.97 L905.74,637.27 L906.97,637.57 L908.21,637.87 L909.44,638.17 L910.68,638.47 L911.91,638.76 L913.15,639.05 L914.39,639.34 L915.62,639.63 L916.86,639.92 L918.09,640.21 L919.33,640.49 L920.56,640.77 L921.80,641.06 L923.03,641.33 L924.27,641.61 L925.50,641.89 L926.74,642.16 L927.97,642.44 L929.21,642.71 L930.44,642.98 L931.68,643.25 L932.92,643.51 L934.15,643.78 L935.39,644.04 L936.62,644.30 L937.86,644.56 L939.09,644.82 L940.33,645.08 L941.56,645.34 L942.80,645.59 L944.03,645.84 L945.27,646.10 L946.50,646.35 L947.74,646.60 L948.97,646.84 L950.21,647.09 L951.45,647.33 L952.68,647.58 L953.92,647.82 L955.15,648.06 L956.39,648.30 L957.62,648.54 L958.86,648.77 L960.09,649.01 L961.33,649.24 L962.56,649.47 L963.80,649.70 L965.03,649.93 L966.27,650.16 L967.50,650.39 L968.74,650.62 L969.98,650.84 L971.21,651.06 L972.45,651.29 L973.68,651.51 L974.92,651.73 L976.15,651.94 L977.39,652.16 L978.62,652.38 L979.86,652.59 L981.09,652.81 L982.33,653.02 L983.56,653.23 L984.80,653.44 L986.03,653.65 L987.27,653.86 L988.51,654.06 L989.74,654.27 L990.98,654.47 L992.21,654.67 L993.45,654.88 L994.68,655.08 L995.92,655.28 L997.15,655.48 L998.39,655.67 L999.62,655.87 L1000.86,656.07 L1002.09,656.26 L1003.33,656.45 L1004.56,656.64 L1005.80,656.84" stroke="#9467bd" stroke-width="4.25" stroke-dasharray="15.725 6.800"/>
</g>
<g fill="none" stroke="#000" stroke-width="1.77" stroke-linecap="square">
<rect x="142.3" y="90.55" width="863.50" height="610.05" stroke-linejoin="miter"/>
</g>
<path d="M142.30,700.6 V714.77 M286.22,700.6 V714.77 M430.13,700.6 V714.77 M574.05,700.6 V714.77 M717.97,700.6 V714.77 M861.88,700.6 V714.77 M1005.80,700.6 V714.77 M171.08,700.6 V707.68 M199.87,700.6 V707.68 M228.65,700.6 V707.68 M257.43,700.6 V707.68 M315.00,700.6 V707.68 M343.78,700.6 V707.68 M372.57,700.6 V707.68 M401.35,700.6 V707.68 M458.92,700.6 V707.68 M487.70,700.6 V707.68 M516.48,700.6 V707.68 M545.27,700.6 V707.68 M602.83,700.6 V707.68 M631.62,700.6 V707.68 M660.40,700.6 V707.68 M689.18,700.6 V707.68 M746.75,700.6 V707.68 M775.53,700.6 V707.68 M804.32,700.6 V707.68 M833.10,700.6 V707.68 M890.67,700.6 V707.68 M919.45,700.6 V707.68 M948.23,700.6 V707.68 M977.02,700.6 V707.68 M142.3,700.60 H128.13 M142.3,610.89 H128.13 M142.3,521.17 H128.13 M142.3,431.46 H128.13 M142.3,341.75 H128.13 M142.3,252.03 H128.13 M142.3,162.32 H128.13 M142.3,678.17 H135.22 M142.3,655.74 H135.22 M142.3,633.32 H135.22 M142.3,588.46 H135.22 M142.3,566.03 H135.22 M142.3,543.60 H135.22 M142.3,498.75 H135.22 M142.3,476.32 H135.22 M142.3,453.89 H135.22 M142.3,409.03 H135.22 M142.3,386.60 H135.22 M142.3,364.18 H135.22 M142.3,319.32 H135.22 M142.3,296.89 H135.22 M142.3,274.46 H135.22 M142.3,229.61 H135.22 M142.3,207.18 H135.22 M142.3,184.75 H135.22 M142.3,139.89 H135.22 M142.3,117.46 H135.22 M142.3,95.04 H135.22 M212.20,90.55 V76.38 M255.90,90.55 V76.38 M325.60,90.55 V76.38 M377.80,90.55 V76.38 M465.00,90.55 V76.38 M604.50,90.55 V76.38 M970.80,90.55 V76.38" stroke="#000" stroke-width="1.77" fill="none"/>
<rect x="238.5" y="526.3" width="463.60" height="160.10" rx="3.5" ry="3.5" fill="#fff" fill-opacity="0.8" stroke="#ccc" stroke-opacity="0.8" stroke-width="1.3"/>
<g fill="none" stroke-width="4.25">
<path d="M249.0,547.0 H300.1" stroke="#1f77b4" stroke-linecap="square"/>
<path d="M249.0,585.4 H300.1" stroke="#ff7f0e" stroke-dasharray="27.200 6.800 4.250 6.800"/>
<path d="M249.0,623.9 H300.1" stroke="#d62728" stroke-dasharray="4.250 7.012"/>
<path d="M249.0,662.4 H300.1" stroke="#9467bd" stroke-dasharray="15.725 6.800"/>
</g>
<g clip-path="url(#ax)" fill="none"><path d="M142.30,664.95 L143.54,664.11 L144.77,663.25 L146.01,662.39 L147.24,661.50 L148.48,660.61 L149.71,659.71 L150.95,658.79 L152.18,657.86 L153.42,656.92 L154.65,655.96 L155.89,654.99 L157.12,654.01 L158.36,653.02 L159.59,652.02 L160.83,651.00 L162.07,649.97 L163.30,648.92 L164.54,647.87 L165.77,646.80 L167.01,645.72 L168.24,644.63 L169.48,643.52 L170.71,642.40 L171.95,641.27 L173.18,640.12 L174.42,638.97 L175.65,637.80 L176.89,636.61 L178.12,635.42 L179.36,634.21 L180.60,632.99 L181.83,631.76 L183.07,630.51 L184.30,629.25 L185.54,627.98 L186.77,626.70 L188.01,625.40 L189.24,624.10 L190.48,622.78 L191.71,621.44 L192.95,620.10 L194.18,618.74 L195.42,617.37 L196.65,615.99 L197.89,614.60 L199.13,613.19 L200.36,611.77 L201.60,610.35 L202.83,608.90 L204.07,607.45 L205.30,605.99 L206.54,604.51 L207.77,603.02 L209.01,601.53 L210.24,600.02 L211.48,598.50 L212.71,596.96 L213.95,595.42 L215.18,593.87 L216.42,592.30 L217.66,590.73 L218.89,589.14 L220.13,587.55 L221.36,585.94 L222.60,584.33 L223.83,582.70 L225.07,581.07 L226.30,579.42 L227.54,577.77 L228.77,576.11 L230.01,574.43 L231.24,572.75 L232.48,571.06 L233.71,569.36 L234.95,567.66 L236.19,565.94 L237.42,564.22 L238.66,562.48 L239.89,560.75 L241.13,559.00 L242.36,557.25 L243.60,555.48 L244.83,553.72 L246.07,551.94 L247.30,550.16 L248.54,548.38 L249.77,546.58 L251.01,544.78 L252.24,542.98 L253.48,541.17 L254.72,539.36 L255.95,537.54 L257.19,535.71 L258.42,533.88 L259.66,532.05 L260.89,530.21 L262.13,528.38 L263.36,526.53 L264.60,524.69 L265.83,522.84 L267.07,520.99 L268.30,519.13 L269.54,517.28 L270.77,515.42 L272.01,513.56 L273.25,511.70 L274.48,509.84 L275.72,507.98 L276.95,506.12 L278.19,504.26 L279.42,502.39 L280.66,500.53 L281.89,498.67 L283.13,496.81 L284.36,494.96 L285.60,493.10 L286.83,491.25 L288.07,489.40 L289.31,487.55 L290.54,485.70 L291.78,483.86 L293.01,482.02 L294.25,480.19 L295.48,478.36 L296.72,476.53 L297.95,474.71 L299.19,472.89 L300.42,471.08 L301.66,469.28 L302.89,467.48 L304.13,465.68 L305.36,463.90 L306.60,462.12 L307.84,460.34 L309.07,458.58 L310.31,456.82 L311.54,455.07 L312.78,453.33 L314.01,451.59 L315.25,449.87 L316.48,448.16 L317.72,446.45 L318.95,444.75 L320.19,443.07 L321.42,441.39 L322.66,439.73 L323.89,438.07 L325.13,436.43 L326.37,434.80 L327.60,433.18 L328.84,431.57 L330.07,429.97 L331.31,428.38 L332.54,426.81 L333.78,425.25 L335.01,423.71 L336.25,422.17 L337.48,420.65 L338.72,419.15 L339.95,417.65 L341.19,416.18 L342.42,414.71 L343.66,413.26 L344.90,411.83 L346.13,410.41 L347.37,409.00 L348.60,407.61 L349.84,406.24 L351.07,404.88 L352.31,403.54 L353.54,402.21 L354.78,400.90 L356.01,399.61 L357.25,398.33 L358.48,397.07 L359.72,395.82 L360.95,394.59 L362.19,393.38 L363.43,392.19 L364.66,391.01 L365.90,389.85 L367.13,388.71 L368.37,387.58 L369.60,386.47 L370.84,385.38 L372.07,384.31 L373.31,383.26 L374.54,382.22 L375.78,381.20 L377.01,380.20 L378.25,379.22 L379.48,378.25 L380.72,377.31 L381.96,376.38 L383.19,375.47 L384.43,374.58 L385.66,373.70 L386.90,372.85 L388.13,372.01 L389.37,371.19 L390.60,370.39 L391.84,369.61 L393.07,368.85 L394.31,368.10 L395.54,367.38 L396.78,366.67 L398.01,365.98 L399.25,365.30 L400.49,364.65 L401.72,364.01 L402.96,363.40 L404.19,362.80 L405.43,362.21 L406.66,361.65 L407.90,361.10 L409.13,360.57 L410.37,360.06 L411.60,359.57 L412.84,359.09 L414.07,358.64 L415.31,358.20 L416.54,357.77 L417.78,357.37 L419.02,356.98 L420.25,356.61 L421.49,356.25 L422.72,355.91 L423.96,355.59 L425.19,355.29 L426.43,355.00 L427.66,354.73 L428.90,354.47 L430.13,354.23 L431.37,354.01 L432.60,353.80 L433.84,353.61 L435.07,353.44 L436.31,353.28 L437.55,353.13 L438.78,353.00 L440.02,352.89 L441.25,352.79 L442.49,352.70 L443.72,352.64 L444.96,352.58 L446.19,352.54 L447.43,352.51 L448.66,352.50 L449.90,352.50 L451.13,352.52 L452.37,352.55 L453.60,352.59 L454.84,352.65 L456.08,352.72 L457.31,352.80 L458.55,352.90 L459.78,353.01 L461.02,353.13 L462.25,353.26 L463.49,353.41 L464.72,353.57 L465.96,353.74 L467.19,353.92 L468.43,354.12 L469.66,354.32 L470.90,354.54 L472.13,354.77 L473.37,355.01 L474.61,355.26 L475.84,355.52 L477.08,355.79 L478.31,356.08 L479.55,356.37 L480.78,356.67 L482.02,356.99 L483.25,357.31 L484.49,357.64 L485.72,357.99 L486.96,358.34 L488.19,358.70 L489.43,359.07 L490.66,359.45 L491.90,359.84 L493.14,360.24 L494.37,360.64 L495.61,361.06 L496.84,361.48 L498.08,361.91 L499.31,362.35 L500.55,362.79 L501.78,363.25 L503.02,363.71 L504.25,364.18 L505.49,364.66 L506.72,365.14 L507.96,365.63 L509.19,366.13 L510.43,366.63 L511.67,367.14 L512.90,367.66 L514.14,368.18 L515.37,368.71 L516.61,369.25 L517.84,369.79 L519.08,370.34 L520.31,370.89 L521.55,371.45 L522.78,372.01 L524.02,372.58 L525.25,373.16 L526.49,373.74 L527.72,374.32 L528.96,374.91 L530.20,375.50 L531.43,376.10 L532.67,376.71 L533.90,377.32 L535.14,377.93 L536.37,378.54 L537.61,379.16 L538.84,379.79 L540.08,380.42 L541.31,381.05 L542.55,381.69 L543.78,382.33 L545.02,382.97 L546.25,383.61 L547.49,384.26 L548.73,384.92 L549.96,385.57 L551.20,386.23 L552.43,386.89 L553.67,387.56 L554.90,388.23 L556.14,388.90 L557.37,389.57 L558.61,390.24 L559.84,390.92 L561.08,391.60 L562.31,392.28 L563.55,392.97 L564.78,393.65 L566.02,394.34 L567.26,395.03 L568.49,395.72 L569.73,396.41 L570.96,397.11 L572.20,397.81 L573.43,398.50 L574.67,399.20 L575.90,399.91 L577.14,400.61 L578.37,401.31 L579.61,402.02 L580.84,402.72 L582.08,403.43 L583.32,404.14 L584.55,404.85 L585.79,405.56 L587.02,406.27 L588.26,406.98 L589.49,407.69 L590.73,408.40 L591.96,409.12 L593.20,409.83 L594.43,410.54 L595.67,411.26 L596.90,411.97 L598.14,412.69 L599.37,413.40 L600.61,414.12 L601.85,414.84 L603.08,415.55 L604.32,416.27 L605.55,416.99 L606.79,417.70 L608.02,418.42 L609.26,419.13 L610.49,419.85 L611.73,420.57 L612.96,421.28 L614.20,422.00 L615.43,422.71 L616.67,423.42 L617.90,424.14 L619.14,424.85 L620.38,425.57 L621.61,426.28 L622.85,426.99 L624.08,427.70 L625.32,428.41 L626.55,429.12 L627.79,429.83 L629.02,430.54 L630.26,431.25 L631.49,431.96 L632.73,432.66 L633.96,433.37 L635.20,434.08 L636.43,434.78 L637.67,435.48 L638.91,436.19 L640.14,436.89 L641.38,437.59 L642.61,438.29 L643.85,438.98 L645.08,439.68 L646.32,440.38 L647.55,441.07 L648.79,441.77 L650.02,442.46 L651.26,443.15 L652.49,443.84 L653.73,444.53 L654.96,445.22 L656.20,445.91 L657.44,446.59 L658.67,447.28 L659.91,447.96 L661.14,448.64 L662.38,449.32 L663.61,450.00 L664.85,450.68 L666.08,451.35 L667.32,452.03 L668.55,452.70 L669.79,453.37 L671.02,454.04 L672.26,454.71 L673.49,455.38 L674.73,456.05 L675.97,456.71 L677.20,457.37 L678.44,458.04 L679.67,458.70 L680.91,459.35 L682.14,460.01 L683.38,460.67 L684.61,461.32 L685.85,461.97 L687.08,462.62 L688.32,463.27 L689.55,463.92 L690.79,464.56 L692.02,465.21 L693.26,465.85 L694.50,466.49 L695.73,467.13 L696.97,467.77 L698.20,468.41 L699.44,469.04 L700.67,469.67 L701.91,470.30 L703.14,470.93 L704.38,471.56 L705.61,472.19 L706.85,472.81 L708.08,473.43 L709.32,474.05 L710.55,474.67 L711.79,475.29 L713.03,475.90 L714.26,476.52 L715.50,477.13 L716.73,477.74 L717.97,478.35 L719.20,478.96 L720.44,479.56 L721.67,480.16 L722.91,480.77 L724.14,481.37 L725.38,481.96 L726.61,482.56 L727.85,483.16 L729.08,483.75 L730.32,484.34 L731.56,484.93 L732.79,485.52 L734.03,486.10 L735.26,486.69 L736.50,487.27 L737.73,487.85 L738.97,488.43 L740.20,489.00 L741.44,489.58 L742.67,490.15 L743.91,490.72 L745.14,491.29 L746.38,491.86 L747.61,492.43 L748.85,492.99 L750.09,493.56 L751.32,494.12 L752.56,494.68 L753.79,495.23 L755.03,495.79 L756.26,496.34 L757.50,496.90 L758.73,497.45 L759.97,498.00 L761.20,498.54 L762.44,499.09 L763.67,499.63 L764.91,500.17 L766.14,500.71 L767.38,501.25 L768.62,501.79 L769.85,502.32 L771.09,502.86 L772.32,503.39 L773.56,503.92 L774.79,504.45 L776.03,504.97 L777.26,505.50 L778.50,506.02 L779.73,506.54 L780.97,507.06 L782.20,507.58 L783.44,508.09 L784.67,508.61 L785.91,509.12 L787.15,509.63 L788.38,510.14 L789.62,510.65 L790.85,511.15 L792.09,511.66 L793.32,512.16 L794.56,512.66 L795.79,513.16 L797.03,513.66 L798.26,514.15 L799.50,514.65 L800.73,515.14 L801.97,515.63 L803.20,516.12 L804.44,516.61 L805.68,517.09 L806.91,517.58 L808.15,518.06 L809.38,518.54 L810.62,519.02 L811.85,519.50 L813.09,519.98 L814.32,520.45 L815.56,520.92 L816.79,521.39 L818.03,521.86 L819.26,522.33 L820.50,522.80 L821.73,523.26 L822.97,523.73 L824.21,524.19 L825.44,524.65 L826.68,525.11 L827.91,525.57 L829.15,526.02 L830.38,526.48 L831.62,526.93 L832.85,527.38 L834.09,527.83 L835.32,528.28 L836.56,528.72 L837.79,529.17 L839.03,529.61 L840.26,530.05 L841.50,530.49 L842.74,530.93 L843.97,531.37 L845.21,531.80 L846.44,532.24 L847.68,532.67 L848.91,533.10 L850.15,533.53 L851.38,533.96 L852.62,534.39 L853.85,534.81 L855.09,535.24 L856.32,535.66 L857.56,536.08 L858.79,536.50 L860.03,536.92 L861.27,537.34 L862.50,537.75 L863.74,538.17 L864.97,538.58 L866.21,538.99 L867.44,539.40 L868.68,539.81 L869.91,540.21 L871.15,540.62 L872.38,541.02 L873.62,541.43 L874.85,541.83 L876.09,542.23 L877.33,542.63 L878.56,543.02 L879.80,543.42 L881.03,543.81 L882.27,544.21 L883.50,544.60 L884.74,544.99 L885.97,545.38 L887.21,545.77 L888.44,546.15 L889.68,546.54 L890.91,546.92 L892.15,547.31 L893.38,547.69 L894.62,548.07 L895.86,548.44 L897.09,548.82 L898.33,549.20 L899.56,549.57 L900.80,549.95 L902.03,550.32 L903.27,550.69 L904.50,551.06 L905.74,551.43 L906.97,551.79 L908.21,552.16 L909.44,552.53 L910.68,552.89 L911.91,553.25 L913.15,553.61 L914.39,553.97 L915.62,554.33 L916.86,554.69 L918.09,555.04 L919.33,555.40 L920.56,555.75 L921.80,556.10 L923.03,556.46 L924.27,556.81 L925.50,557.15 L926.74,557.50 L927.97,557.85 L929.21,558.19 L930.44,558.54 L931.68,558.88 L932.92,559.22 L934.15,559.56 L935.39,559.90 L936.62,560.24 L937.86,560.58 L939.09,560.92 L940.33,561.25 L941.56,561.58 L942.80,561.92 L944.03,562.25 L945.27,562.58 L946.50,562.91 L947.74,563.24 L948.97,563.56 L950.21,563.89 L951.45,564.21 L952.68,564.54 L953.92,564.86 L955.15,565.18 L956.39,565.50 L957.62,565.82 L958.86,566.14 L960.09,566.46 L961.33,566.77 L962.56,567.09 L963.80,567.40 L965.03,567.72 L966.27,568.03 L967.50,568.34 L968.74,568.65 L969.98,568.96 L971.21,569.27 L972.45,569.57 L973.68,569.88 L974.92,570.19 L976.15,570.49 L977.39,570.79 L978.62,571.09 L979.86,571.39 L981.09,571.69 L982.33,571.99 L983.56,572.29 L984.80,572.59 L986.03,572.88 L987.27,573.18 L988.51,573.47 L989.74,573.77 L990.98,574.06 L992.21,574.35 L993.45,574.64 L994.68,574.93 L995.92,575.22 L997.15,575.50 L998.39,575.79 L999.62,576.08 L1000.86,576.36 L1002.09,576.64 L1003.33,576.93 L1004.56,577.21 L1005.80,577.49" stroke="#1f77b4" stroke-width="4.25" stroke-linejoin="round" stroke-linecap="square"/></g>
<g font-family="'Liberation Serif', serif" fill="#000" style="font-kerning:none;font-variant-ligatures:none">
<text x="53.93" y="712.80" font-size="32.59" textLength="67.33" lengthAdjust="spacingAndGlyphs" stroke="#000" stroke-width="0.80" stroke-linejoin="round">0.00</text>
<text x="53.93" y="623.09" font-size="32.59" textLength="67.37" lengthAdjust="spacingAndGlyphs" stroke="#000" stroke-width="0.80" stroke-linejoin="round">0.25</text>
<text x="53.93" y="533.37" font-size="32.59" textLength="67.33" lengthAdjust="spacingAndGlyphs" stroke="#000" stroke-width="0.80" stroke-linejoin="round">0.50</text>
<text x="53.93" y="443.66" font-size="32.59" textLength="67.37" lengthAdjust="spacingAndGlyphs" stroke="#000" stroke-width="0.80" stroke-linejoin="round">0.75</text>
<text x="51.91" y="353.95" font-size="32.59" textLength="69.40" lengthAdjust="spacingAndGlyphs" stroke="#000" stroke-width="0.80" stroke-linejoin="round">1.00</text>
<text x="51.91" y="264.23" font-size="32.59" textLength="69.44" lengthAdjust="spacingAndGlyphs" stroke="#000" stroke-width="0.80" stroke-linejoin="round">1.25</text>
<text x="51.91" y="174.52" font-size="32.59" textLength="69.40" lengthAdjust="spacingAndGlyphs" stroke="#000" stroke-width="0.80" stroke-linejoin="round">1.50</text>
<text x="131.09" y="745.20" font-size="32.59" textLength="19.82" lengthAdjust="spacingAndGlyphs" stroke="#000" stroke-width="0.80" stroke-linejoin="round">0</text>
<text x="272.93" y="745.20" font-size="32.59" textLength="19.17" lengthAdjust="spacingAndGlyphs" stroke="#000" stroke-width="0.80" stroke-linejoin="round">1</text>
<text x="418.94" y="745.20" font-size="32.59" textLength="18.83" lengthAdjust="spacingAndGlyphs" stroke="#000" stroke-width="0.80" stroke-linejoin="round">2</text>
<text x="562.80" y="745.20" font-size="32.59" textLength="18.76" lengthAdjust="spacingAndGlyphs" stroke="#000" stroke-width="0.80" stroke-linejoin="round">3</text>
<text x="707.90" y="745.20" font-size="32.59" textLength="17.96" lengthAdjust="spacingAndGlyphs" stroke="#000" stroke-width="0.80" stroke-linejoin="round">4</text>
<text x="849.65" y="745.20" font-size="32.59" textLength="19.36" lengthAdjust="spacingAndGlyphs" stroke="#000" stroke-width="0.80" stroke-linejoin="round">5</text>
<text x="994.61" y="745.20" font-size="32.59" textLength="18.49" lengthAdjust="spacingAndGlyphs" stroke="#000" stroke-width="0.80" stroke-linejoin="round">6</text>
<text x="202.72" y="64.30" font-size="34.70" textLength="16.75" lengthAdjust="spacingAndGlyphs">9</text>
<text x="245.41" y="64.30" font-size="34.70" textLength="17.40" lengthAdjust="spacingAndGlyphs">7</text>
<text x="315.81" y="64.30" font-size="34.70" textLength="16.26" lengthAdjust="spacingAndGlyphs">5</text>
<text x="369.41" y="64.30" font-size="34.70" textLength="15.17" lengthAdjust="spacingAndGlyphs">4</text>
<text x="455.01" y="64.30" font-size="34.70" textLength="17.67" lengthAdjust="spacingAndGlyphs">3</text>
<text x="595.21" y="64.30" font-size="34.70" textLength="16.96" lengthAdjust="spacingAndGlyphs">2</text>
<text x="959.70" y="64.30" font-size="34.70" textLength="15.34" lengthAdjust="spacingAndGlyphs">1</text>
<text x="420.70" y="32.10" font-size="34.09" textLength="55.28" lengthAdjust="spacingAndGlyphs" stroke="#000" stroke-width="0.80" stroke-linejoin="round">age</text>
<text x="490.17" y="32.10" font-size="34.09" textLength="135.72" lengthAdjust="spacingAndGlyphs" stroke="#000" stroke-width="0.80" stroke-linejoin="round">universe</text>
<text x="641.10" y="35.34" font-size="40.84" textLength="8.08" lengthAdjust="spacingAndGlyphs">[</text>
<text x="650.04" y="32.10" font-size="34.09" textLength="62.91" lengthAdjust="spacingAndGlyphs" stroke="#000" stroke-width="0.80" stroke-linejoin="round">Gyr</text>
<text x="714.58" y="35.34" font-size="40.84" textLength="8.53" lengthAdjust="spacingAndGlyphs">]</text>
<text x="488.53" y="783.40" font-size="34.29" textLength="137.41" lengthAdjust="spacingAndGlyphs" stroke="#000" stroke-width="0.80" stroke-linejoin="round">Redshift</text>
<text x="640.78" y="784.00" font-size="34.90" textLength="16.48" lengthAdjust="spacingAndGlyphs" font-style="italic">z</text>
<text x="319.12" y="555.10" font-size="23.99" textLength="22.08" lengthAdjust="spacingAndGlyphs" stroke="#000" stroke-width="0.80" stroke-linejoin="round">0:</text>
<text x="354.55" y="555.10" font-size="23.99" textLength="94.63" lengthAdjust="spacingAndGlyphs" stroke="#000" stroke-width="0.80" stroke-linejoin="round">Neijssel</text>
<text x="458.96" y="555.10" font-size="23.99" textLength="22.82" lengthAdjust="spacingAndGlyphs" stroke="#000" stroke-width="0.80" stroke-linejoin="round">et</text>
<text x="493.14" y="555.10" font-size="23.99" textLength="29.24" lengthAdjust="spacingAndGlyphs" stroke="#000" stroke-width="0.80" stroke-linejoin="round">al.</text>
<text x="537.05" y="555.10" font-size="23.99" textLength="75.80" lengthAdjust="spacingAndGlyphs" stroke="#000" stroke-width="0.80" stroke-linejoin="round">(2019)</text>
<text x="317.50" y="593.60" font-size="23.99" textLength="23.89" lengthAdjust="spacingAndGlyphs" stroke="#000" stroke-width="0.80" stroke-linejoin="round">1:</text>
<text x="354.12" y="593.60" font-size="23.99" textLength="85.21" lengthAdjust="spacingAndGlyphs" stroke="#000" stroke-width="0.80" stroke-linejoin="round">Madau</text>
<text x="450.23" y="593.60" font-size="23.99" textLength="21.88" lengthAdjust="spacingAndGlyphs" stroke="#000" stroke-width="0.80" stroke-linejoin="round">&amp;</text>
<text x="479.66" y="593.60" font-size="23.99" textLength="120.49" lengthAdjust="spacingAndGlyphs" stroke="#000" stroke-width="0.80" stroke-linejoin="round">Dickinson</text>
<text x="610.71" y="593.60" font-size="23.99" textLength="78.18" lengthAdjust="spacingAndGlyphs" stroke="#000" stroke-width="0.80" stroke-linejoin="round">(2014)</text>
<text x="318.94" y="632.10" font-size="23.99" textLength="22.28" lengthAdjust="spacingAndGlyphs" stroke="#000" stroke-width="0.80" stroke-linejoin="round">2:</text>
<text x="353.14" y="632.10" font-size="23.99" textLength="99.13" lengthAdjust="spacingAndGlyphs" stroke="#000" stroke-width="0.80" stroke-linejoin="round">Strolger</text>
<text x="462.95" y="632.10" font-size="23.99" textLength="23.03" lengthAdjust="spacingAndGlyphs" stroke="#000" stroke-width="0.80" stroke-linejoin="round">et</text>
<text x="496.64" y="632.10" font-size="23.99" textLength="29.24" lengthAdjust="spacingAndGlyphs" stroke="#000" stroke-width="0.80" stroke-linejoin="round">al.</text>
<text x="540.65" y="632.10" font-size="23.99" textLength="76.01" lengthAdjust="spacingAndGlyphs" stroke="#000" stroke-width="0.80" stroke-linejoin="round">(2004)</text>
<text x="318.82" y="670.60" font-size="23.99" textLength="22.41" lengthAdjust="spacingAndGlyphs" stroke="#000" stroke-width="0.80" stroke-linejoin="round">3:</text>
<text x="354.12" y="670.60" font-size="23.99" textLength="85.21" lengthAdjust="spacingAndGlyphs" stroke="#000" stroke-width="0.80" stroke-linejoin="round">Madau</text>
<text x="450.23" y="670.60" font-size="23.99" textLength="21.88" lengthAdjust="spacingAndGlyphs" stroke="#000" stroke-width="0.80" stroke-linejoin="round">&amp;</text>
<text x="480.45" y="670.60" font-size="23.99" textLength="80.21" lengthAdjust="spacingAndGlyphs" stroke="#000" stroke-width="0.80" stroke-linejoin="round">Fragos</text>
<text x="571.44" y="670.60" font-size="23.99" textLength="76.42" lengthAdjust="spacingAndGlyphs" stroke="#000" stroke-width="0.80" stroke-linejoin="round">(2017)</text>
<g transform="translate(37.3,709.5) rotate(-90)">
<text x="-1.54" y="0.00" font-size="34.70" textLength="21.37" lengthAdjust="spacingAndGlyphs">d</text>
<text x="20.18" y="-13.00" font-size="23.20" textLength="14.97" lengthAdjust="spacingAndGlyphs">2</text>
<text x="37.42" y="0.00" font-size="34.70" textLength="36.66" lengthAdjust="spacingAndGlyphs" font-style="italic">M</text>
<text x="72.82" y="5.50" font-size="24.30" textLength="52.62" lengthAdjust="spacingAndGlyphs">SFR</text>
<text x="128.20" y="7.71" font-size="50.23" textLength="14.80" lengthAdjust="spacingAndGlyphs">/</text>
<text x="146.77" y="0.31" font-size="37.06" textLength="14.65" lengthAdjust="spacingAndGlyphs">(</text>
<text x="159.56" y="0.00" font-size="34.70" textLength="21.37" lengthAdjust="spacingAndGlyphs">d</text>
<text x="179.94" y="0.00" font-size="34.70" textLength="13.68" lengthAdjust="spacingAndGlyphs" font-style="italic">t</text>
<text x="195.78" y="5.50" font-size="24.30" textLength="10.60" lengthAdjust="spacingAndGlyphs">s</text>
<text x="205.42" y="0.00" font-size="34.70" textLength="23.25" lengthAdjust="spacingAndGlyphs">d</text>
<text x="227.43" y="0.00" font-size="34.70" textLength="26.49" lengthAdjust="spacingAndGlyphs" font-style="italic">V</text>
<text x="251.53" y="5.50" font-size="24.30" textLength="11.36" lengthAdjust="spacingAndGlyphs">c</text>
<text x="265.11" y="0.31" font-size="37.06" textLength="10.24" lengthAdjust="spacingAndGlyphs">)</text>
<text x="290.90" y="2.77" font-size="40.60" textLength="8.52" lengthAdjust="spacingAndGlyphs">[</text>
<text x="298.92" y="-0.40" font-size="32.59" textLength="38.44" lengthAdjust="spacingAndGlyphs" stroke="#000" stroke-width="0.80" stroke-linejoin="round">10</text>
<text x="337.84" y="-13.00" font-size="22.40" textLength="12.62" lengthAdjust="spacingAndGlyphs">8</text>
<text x="362.05" y="-0.40" font-size="33.09" textLength="35.63" lengthAdjust="spacingAndGlyphs" stroke="#000" stroke-width="0.80" stroke-linejoin="round">M</text>
<text x="430.20" y="-0.40" font-size="33.09" textLength="34.16" lengthAdjust="spacingAndGlyphs" stroke="#000" stroke-width="0.80" stroke-linejoin="round">yr</text>
<text x="466.19" y="-12.50" font-size="23.20" textLength="34.46" lengthAdjust="spacingAndGlyphs">−1</text>
<text x="510.57" y="-0.40" font-size="33.09" textLength="70.43" lengthAdjust="spacingAndGlyphs" stroke="#000" stroke-width="0.80" stroke-linejoin="round">Gpc</text>
<text x="581.03" y="-13.50" font-size="23.50" textLength="33.50" lengthAdjust="spacingAndGlyphs">−3</text>
<text x="615.87" y="2.77" font-size="40.60" textLength="7.63" lengthAdjust="spacingAndGlyphs">]</text>
<circle cx="408.25" cy="-1.0" r="8.5" fill="none" stroke="#000" stroke-width="1.2"/><circle cx="408.25" cy="-1.0" r="1.9" fill="#000"/>
</g></g>
</svg>
</body></html>
